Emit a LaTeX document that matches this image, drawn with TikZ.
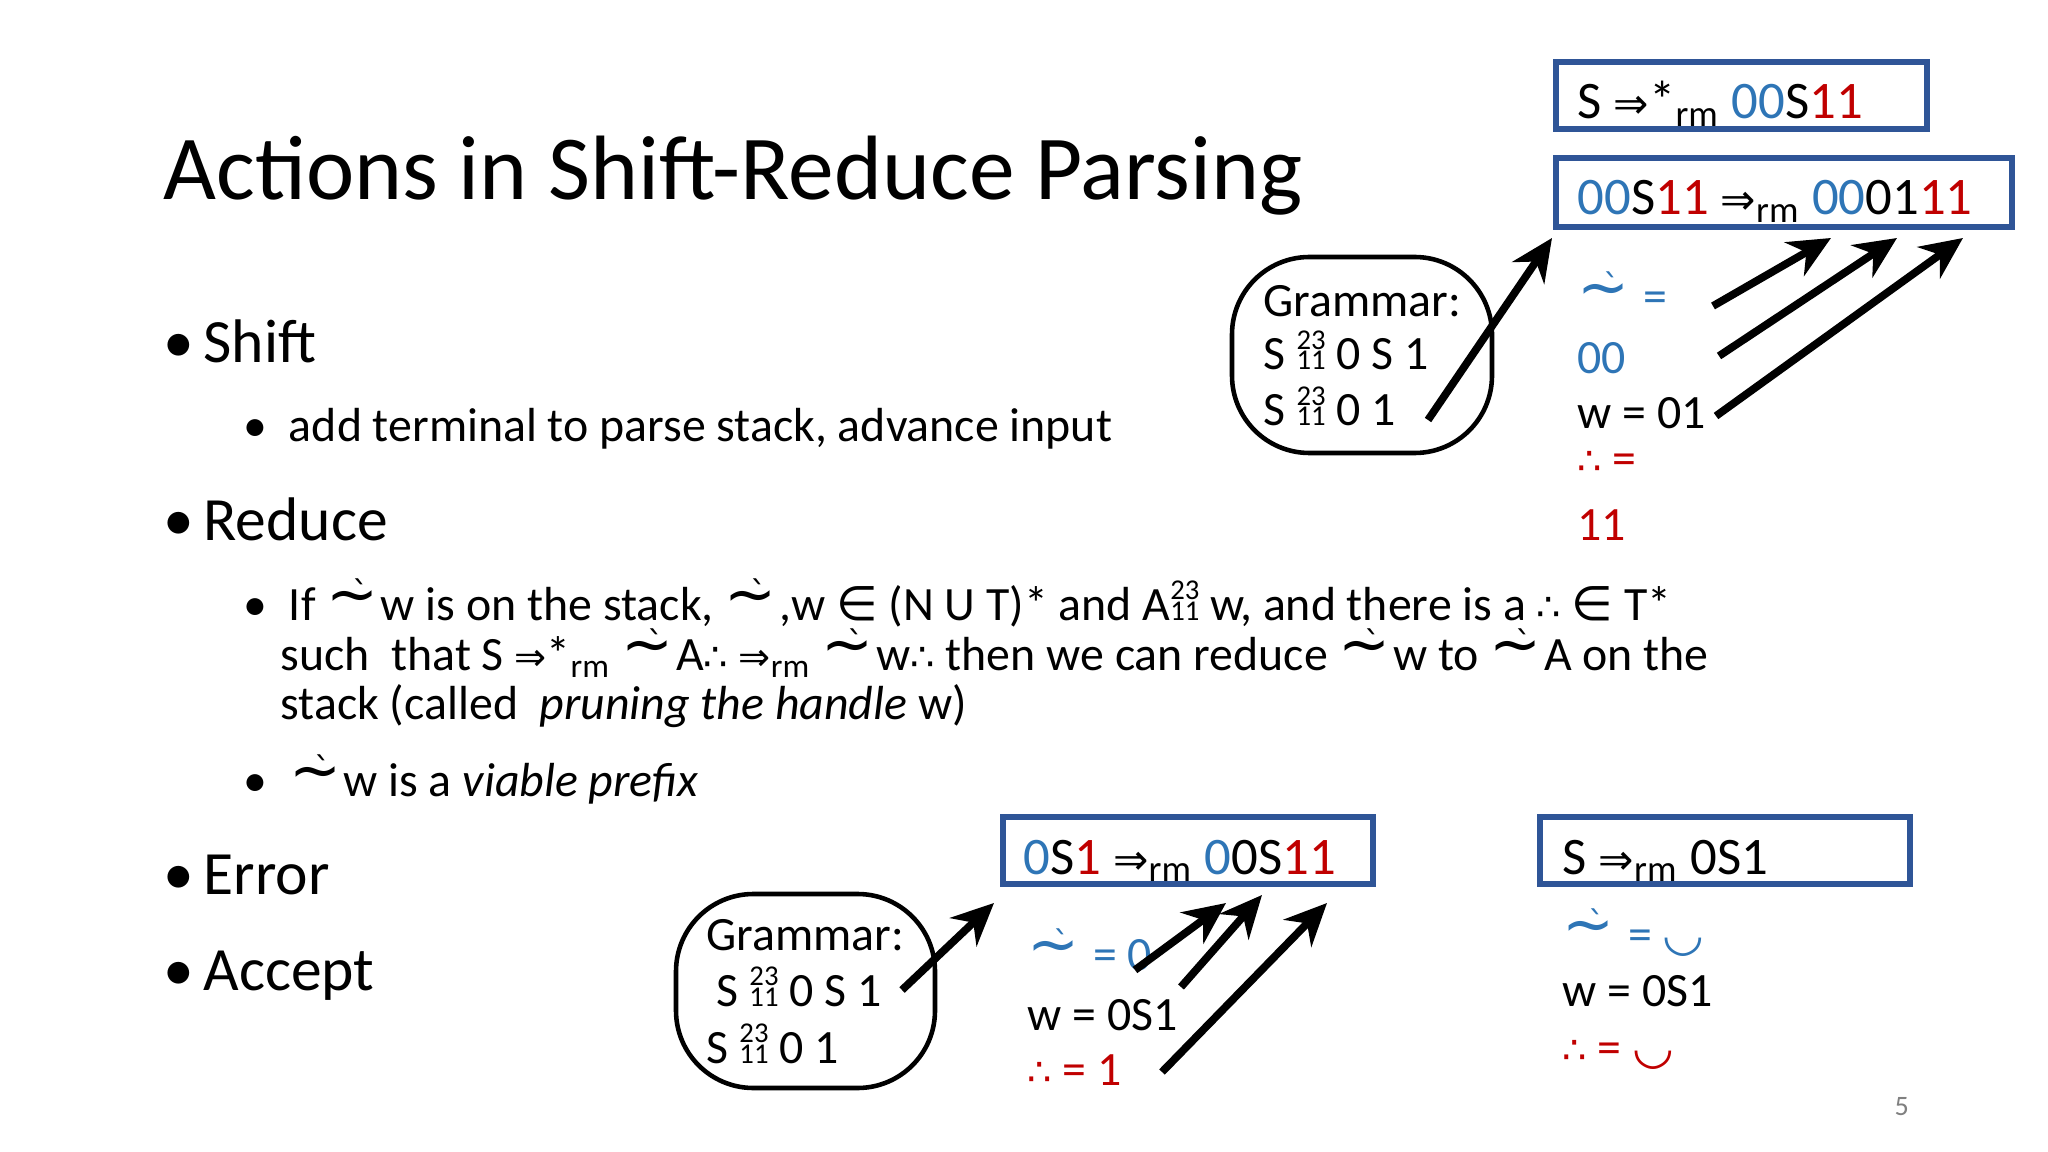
\documentclass[tikz,border=0pt]{standalone}
\usepackage{fontspec}
\usepackage{graphicx}
\setmainfont{Carlito}
\newfontfamily\djfont{DejaVu Sans}
\definecolor{myblue}{HTML}{2E75B6}
\definecolor{myred}{HTML}{C00000}
\definecolor{boxblue}{HTML}{2F5597}
\newcommand\al{{\djfont\raisebox{0.1em}{\scalebox{1.3}{∼}}\kern-0.55em\raisebox{0.3em}{\scalebox{0.7}{`}}\kern0.25em}}
\newcommand\be{{\djfont\scalebox{0.8}{∴}}}
\newcommand\imp{{\djfont\scalebox{0.8}{⇒}}}
\newcommand\isin{{\djfont ∈}}
\newcommand\rar{\scalebox{0.6}{\rlap{\raisebox{0.72em}{23}}11}}
\usetikzlibrary{arrows.meta}
\tikzset{
 txt/.style={anchor=base west,inner sep=0pt},
 title/.style={txt,font=\fontsize{26pt}{31pt}\selectfont},
 big/.style={txt,font=\fontsize{17.5pt}{21pt}\selectfont},
 small/.style={txt,font=\fontsize{13.6pt}{16pt}\selectfont},
 mid/.style={txt,font=\fontsize{15pt}{18pt}\selectfont},
 gbox/.style={draw,line width=1.3pt,rounded corners=22pt},
 bbox/.style={draw=boxblue,line width=1.5pt},
 arr/.style={line width=2.2pt,-{Stealth[length=12pt,width=11pt]}}
}
\begin{document}
\begin{tikzpicture}[x=0.01cm,y=-0.01cm]
\useasboundingbox (0,0) rectangle (2048,1152);
\node[title] (t) at (163,200) {Actions in Shift-Reduce Parsing};
\node[big] (b1) at (163,363) {•\hspace{0.15em}Shift};
\node[small] (s1) at (243,442) {•\hspace{0.45em}add terminal to parse stack, advance input};
\node[big] (b2) at (163,541) {•\hspace{0.15em}Reduce};
\node[small] (r1) at (243,620) {•\hspace{0.45em}If \al w is on the stack, \al,w \isin\ (N U T)* and A\rar\ w, and there is a \be\ \isin\ T*};
\node[small] (r2) at (280,670) {such\ \ that S \imp*\textsubscript{rm} \al A\be\ \imp\textsubscript{rm} \al w\be\ then we can reduce \al w to \al A on the};
\node[small] (r3) at (280,719) {stack (called\ \ \textit{pruning the handle} w)};
\node[small] (v) at (243,796) {•\hspace{0.45em}\al w is a \textit{viable prefix}};
\node[big] (b3) at (163,894) {•\hspace{0.15em}Error};
\node[big] (b4) at (163,990) {•\hspace{0.15em}Accept};
\node[txt,font=\fontsize{8pt}{10pt}\selectfont,text=gray] (pg) at (1894,1115) {5};
% top grammar
\draw[gbox] (1232,257) rectangle (1492,453);
\node[small] (g1) at (1263,317) {Grammar:};
\node[small] (g2) at (1263,370) {S \rar\ 0 S 1};
\node[small] (g3) at (1263,426) {S \rar\ 0 1};
\coordinate (g3e) at (1428,420);
\draw[bbox] (1556,62) rectangle (1927,129);
\node[mid] (d1) at (1577,119) {S \imp*\textsubscript{rm} \textcolor{myblue}{00}S\textcolor{myred}{11}};
\draw[bbox] (1556,158) rectangle (2012,227);
\node[mid] (d2) at (1577,215) {\textcolor{myblue}{00}S\textcolor{myred}{11} \imp\textsubscript{rm} \textcolor{myblue}{00}01\textcolor{myred}{11}};
\node[small,text=myblue] (c1) at (1577,313) {\al\ =};
\node[small,text=myblue] (c2) at (1577,374) {00};
\node[small] (c3) at (1577,429) {w = 01};
\node[small,text=myred] (c4) at (1577,475) {\be\ =};
\node[small,text=myred] (c5) at (1577,541) {11};
\coordinate (a1s) at (1713,306); \coordinate (a1e) at (1831,238);
\coordinate (a2s) at (1719,356); \coordinate (a2e) at (1897,238);
\coordinate (a3s) at (1716,416); \coordinate (a3e) at (1963,238);
\coordinate (a0e) at (1552,238);
\draw[arr] (g3e) -- (a0e);
\draw[arr] (a1s) -- (a1e);
\draw[arr] (a2s) -- (a2e);
\draw[arr] (a3s) -- (a3e);
% bottom grammar
\draw[gbox] (676,894) rectangle (935,1088);
\node[small] (h1) at (706,950) {Grammar:};
\node[small] (h2) at (716,1006) {S \rar\ 0 S 1};
\node[small] (h3) at (706,1063) {S \rar\ 0 1};
\coordinate (h2e) at (902,990);
\draw[bbox] (1003,817) rectangle (1373,884);
\node[mid] (e1) at (1023,874) {\textcolor{myblue}{0}S\textcolor{myred}{1} \imp\textsubscript{rm} \textcolor{myblue}{0}0S\textcolor{myred}{11}};
\node[small] (f1) at (1027,970) {\textcolor{myblue}{\al\ = 0}};
\node[small] (f2) at (1027,1030) {w = 0S1};
\node[small,text=myred] (f3) at (1027,1085) {\be\ = 1};
\coordinate (b0e) at (994,903);
\coordinate (b1s) at (1135,970); \coordinate (b1e) at (1226,903);
\coordinate (b2s) at (1181,987); \coordinate (b2e) at (1262,895);
\coordinate (b3s) at (1162,1072); \coordinate (b3e) at (1327,903);
\draw[arr] (h2e) -- (b0e);
\draw[arr] (b1s) -- (b1e);
\draw[arr] (b2s) -- (b2e);
\draw[arr] (b3s) -- (b3e);
\draw[bbox] (1540,817) rectangle (1910,884);
\node[mid] (k1) at (1562,874) {S \imp\textsubscript{rm} 0S1};
\node[small,text=myblue] (k2) at (1562,950) {\al\ = {\djfont ◡}};
\node[small] (k3) at (1562,1006) {w = 0S1};
\node[small,text=myred] (k4) at (1562,1063) {\be\ = {\djfont ◡}};
\end{tikzpicture}
\end{document}
